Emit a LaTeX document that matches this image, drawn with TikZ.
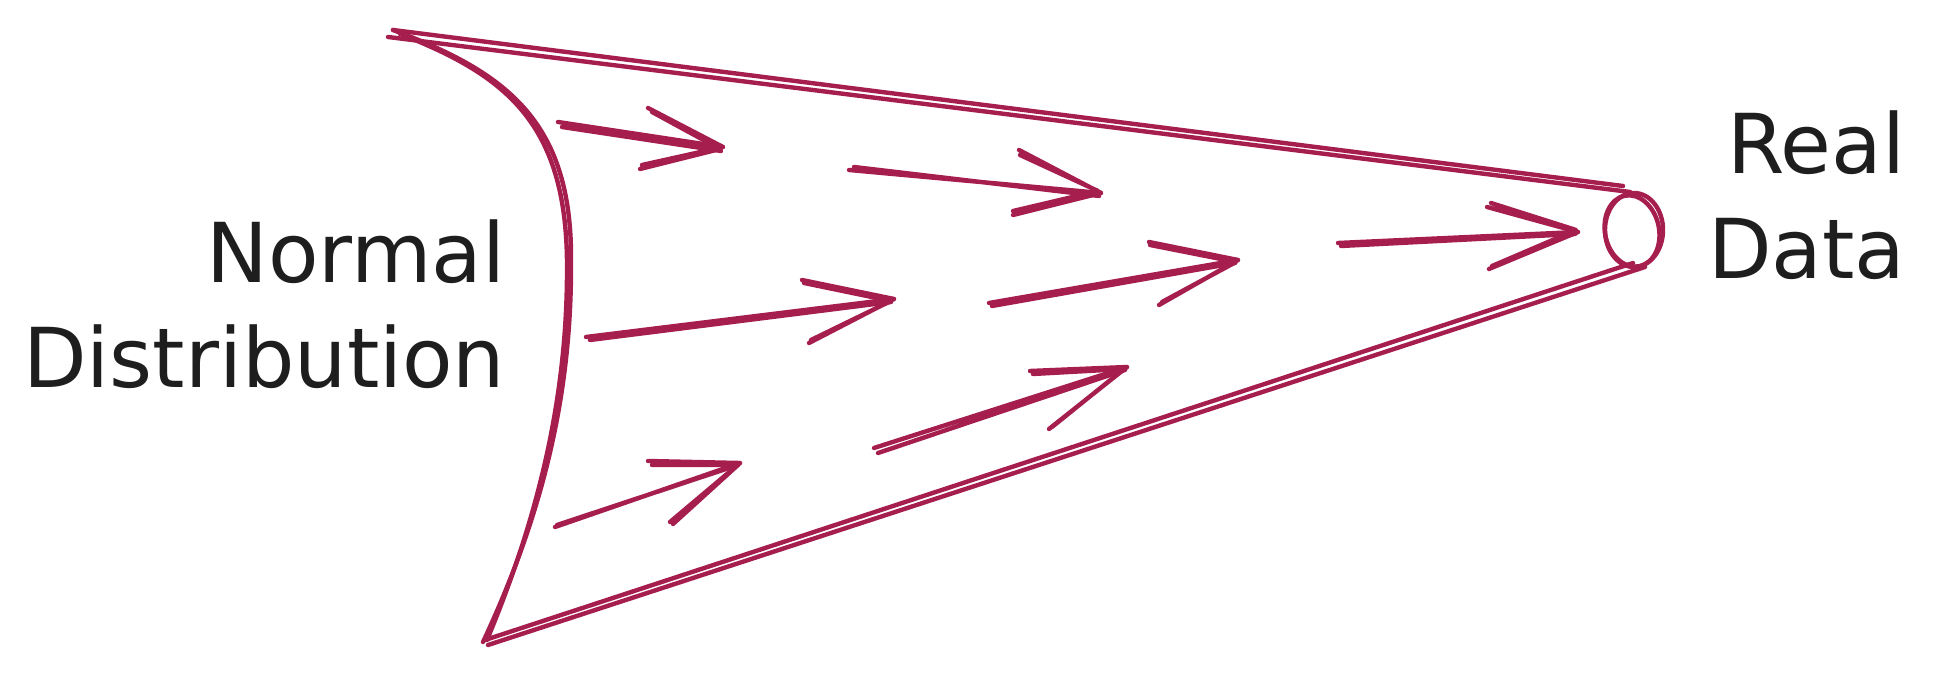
\documentclass[tikz,border=0pt]{standalone}
\usepackage{fontspec}
\setmainfont{DejaVu Sans}
\usepackage{tikz}
\usetikzlibrary{shapes.geometric}
\definecolor{berry}{HTML}{A61E4D}
\definecolor{ink}{HTML}{1E1E1E}
\tikzset{
  sketch/.style={draw=berry, line width=1.25pt, line cap=round, line join=round},
  handtext/.style={text=ink, font=\fontsize{23.5}{29.8}\selectfont, align=right, inner sep=0pt}
}

\begin{document}
\begin{tikzpicture}[x=0.01cm, y=-0.01cm]
      \useasboundingbox (0, 0) rectangle (1940, 674);
      % labels
      \node[handtext, anchor=north east] (normal) at (506, 219) {Normal\\Distribution};
      \node[handtext, anchor=north east] (real) at (1906, 110) {Real\\Data};
      % target blob
      \node[sketch, ellipse, minimum width=0.58cm, minimum height=0.74cm, inner sep=0pt] (data) at (1634, 230) {};
      \draw[sketch, rotate around={12:(1632, 231)}] (1632, 231) ellipse [x radius=0.27cm, y radius=0.36cm];
      % cone
      \draw[sketch] (393, 30) -- (1623, 186);
      \draw[sketch] (388, 37) -- (1630, 192);
      \draw[sketch] (485, 640) -- (1633, 263);
      \draw[sketch] (488, 645) -- (1645, 267);
      \draw[sketch] (393, 30) .. controls (505, 72) and (572, 120) .. (571, 260)
                               .. controls (572, 400) and (540, 520) .. (483, 642);
      \draw[sketch] (400, 34) .. controls (508, 76) and (568, 125) .. (567, 270)
                               .. controls (567, 405) and (535, 525) .. (487, 640);
      % arrows
      \draw[sketch] (558, 122) -- (723, 147) (562, 127) -- (721, 151);
      \draw[sketch] (648, 108) -- (723, 147) -- (642, 165) (652, 112) -- (720, 149) -- (640, 169);
      \draw[sketch] (849, 170) -- (1101, 193) (854, 167) -- (1099, 196);
      \draw[sketch] (1019, 150) -- (1101, 193) -- (1013, 215) (1020, 155) -- (1098, 191) -- (1013, 211);
      \draw[sketch] (586, 337) -- (894, 299) (590, 340) -- (891, 302);
      \draw[sketch] (802, 280) -- (894, 299) -- (809, 343) (804, 283) -- (891, 301) -- (811, 340);
      \draw[sketch] (989, 303) -- (1238, 260) (992, 306) -- (1235, 263);
      \draw[sketch] (1149, 242) -- (1238, 260) -- (1159, 305) (1150, 245) -- (1236, 262) -- (1162, 302);
      \draw[sketch] (1338, 243) -- (1578, 232) (1341, 246) -- (1575, 234);
      \draw[sketch] (1487, 207) -- (1578, 232) -- (1489, 269) (1491, 203) -- (1576, 230) -- (1492, 266);
      \draw[sketch] (874, 448) -- (1127, 367) (878, 453) -- (1125, 370);
      \draw[sketch] (1030, 371) -- (1127, 367) -- (1049, 429) (1033, 374) -- (1124, 369) -- (1052, 427);
      \draw[sketch] (555, 527) -- (740, 463) (557, 525) -- (738, 465);
      \draw[sketch] (648, 461) -- (740, 463) -- (670, 522) (652, 465) -- (738, 465) -- (673, 524);
    \end{tikzpicture}
\end{document}
